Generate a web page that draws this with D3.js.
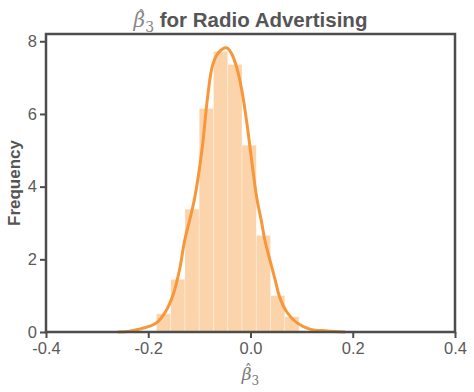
<!DOCTYPE html>
<html>
<head>
<meta charset="utf-8">
<script src="https://cdn.jsdelivr.net/npm/d3@7"></script>
<style>
  body { margin: 0; background: #fff; }
  svg { display: block; }
</style>
</head>
<body>
<div id="chart"></div>
<script>
// histogram bins (left edges, common width) and heights (density)
const binStart = -0.184
const binWidth = 0.0279
const binHeights = [0.5, 1.45, 3.38, 6.15, 7.72, 7.36, 5.14, 2.66, 1.0, 0.42]

// kde curve
const kdeX = [-0.26, -0.237, -0.217, -0.197, -0.184, -0.168, -0.152, -0.139, -0.129, -0.119, -0.109, -0.095, -0.084, -0.074, -0.062, -0.047, -0.037, -0.027, -0.017, -0.007, 0.003, 0.012, 0.022, 0.028, 0.038, 0.048, 0.057, 0.071, 0.091, 0.116, 0.15, 0.185]
const kdeY = [0, 0.02, 0.08, 0.16, 0.25, 0.52, 1.0, 1.7, 2.5, 3.08, 3.7, 5.0, 6.45, 7.35, 7.7, 7.82, 7.66, 7.28, 6.65, 5.74, 4.64, 3.71, 3.0, 2.53, 1.98, 1.45, 0.96, 0.55, 0.25, 0.08, 0.03, 0]

const xTicks = [-0.4, -0.2, 0.0, 0.2, 0.4]
const yTicks = [0, 2, 4, 6, 8]

const W = 474, H = 392
const margin = { top: 34, right: 19, bottom: 60, left: 46 }
const width = W - margin.left - margin.right
const height = H - margin.top - margin.bottom

const x = d3.scaleLinear().domain([-0.4, 0.4]).range([0, width])
const y = d3.scaleLinear().domain([0, 8.2]).range([height, 0])

const svg = d3.select('#chart').append('svg')
    .attr('width', W)
    .attr('height', H)

const g = svg.append('g')
    .attr('transform', 'translate(' + margin.left + ',' + margin.top + ')')

// bars
const bins = binHeights.map((h, i) => ({ x0: binStart + i * binWidth, x1: binStart + (i + 1) * binWidth, h: h }))
g.selectAll('rect.bar')
    .data(bins)
    .join('rect')
    .attr('class', 'bar')
    .attr('x', d => x(d.x0))
    .attr('width', d => x(d.x1) - x(d.x0))
    .attr('y', d => y(d.h))
    .attr('height', d => y(0) - y(d.h))
    .attr('fill', '#fcd4ab')
    .attr('stroke', '#fff')
    .attr('stroke-opacity', 0.35)
    .attr('stroke-width', 0.8)

// kde line
const kde = kdeX.map((v, i) => ({ x: v, y: kdeY[i] }))
const line = d3.line()
    .x(d => x(d.x))
    .y(d => y(d.y))
    .curve(d3.curveCatmullRom.alpha(0.5))

g.append('path')
    .datum(kde)
    .attr('d', line)
    .attr('fill', 'none')
    .attr('stroke', '#f7973a')
    .attr('stroke-width', 3)
    .attr('stroke-linejoin', 'round')

// axes
const fontFam = '"Liberation Sans", Arial, Helvetica, sans-serif'
const xAxis = g.append('g')
    .attr('transform', 'translate(0,' + height + ')')
    .call(d3.axisBottom(x).tickValues(xTicks).tickFormat(d3.format('.1f')).tickSize(6).tickSizeOuter(0).tickPadding(4))
const yAxis = g.append('g')
    .call(d3.axisLeft(y).tickValues(yTicks).tickFormat(d3.format('d')).tickSize(6).tickSizeOuter(0).tickPadding(3))

for (const ax of [xAxis, yAxis]) {
    ax.select('.domain').remove()
    ax.selectAll('line').attr('stroke', '#4d4d4d').attr('stroke-width', 2)
    ax.selectAll('text')
        .attr('fill', '#5a5a5a')
        .style('font-size', '16.5px')
        .style('font-family', fontFam)
}
xAxis.selectAll('text').text(d => d3.format('.1f')(d).replace('−', '-'))

// frame
g.append('rect')
    .attr('x', 0)
    .attr('y', 0)
    .attr('width', width)
    .attr('height', height)
    .attr('fill', 'none')
    .attr('stroke', '#4d4d4d')
    .attr('stroke-width', 2.5)

// beta with subscript 3
function betaSub(sel, size, colour) {
    const t = sel.append('tspan')
        .style('font-family', '"DejaVu Serif", serif')
        .attr('fill', colour)
    t.append('tspan')
        .style('font-style', 'italic')
        .style('font-size', size + 'px')
        .text('β')
    t.append('tspan')
        .style('font-size', Math.round(size * 0.68) + 'px')
        .attr('dy', size * 0.27)
        .text('3')
    return t
}
// hat over the beta, kept inside the same text element
function addHat(textSel, baseY, size, colour) {
    const box = textSel.node().getExtentOfChar(0)
    textSel.append('tspan')
        .attr('x', box.x + box.width / 2 + size * 0.1)
        .attr('y', baseY - size * 0.27)
        .attr('fill', colour)
        .style('font-family', '"DejaVu Serif", serif')
        .style('font-size', size * 0.85 + 'px')
        .text('ˆ')
}

// title
const title = svg.append('text')
    .attr('x', margin.left + width / 2)
    .attr('y', 27)
    .attr('text-anchor', 'middle')
    .attr('fill', '#555')
betaSub(title, 20, '#888')
title.append('tspan')
    .attr('dy', -5.4)
    .style('font-family', fontFam)
    .style('font-weight', 'bold')
    .style('font-size', '20.5px')
    .text(' for Radio Advertising')
addHat(title, 27, 20, '#888')

// x label
const xl = svg.append('text')
    .attr('x', margin.left + width / 2)
    .attr('y', 380)
    .attr('text-anchor', 'middle')
betaSub(xl, 17, '#777')
addHat(xl, 380, 17, '#777')

// y label
svg.append('text')
    .attr('transform', 'translate(20,' + (margin.top + height / 2) + ') rotate(-90)')
    .attr('text-anchor', 'middle')
    .attr('fill', '#555')
    .style('font-family', fontFam)
    .style('font-weight', 'bold')
    .style('font-size', '17px')
    .text('Frequency')
</script>
</body>
</html>
